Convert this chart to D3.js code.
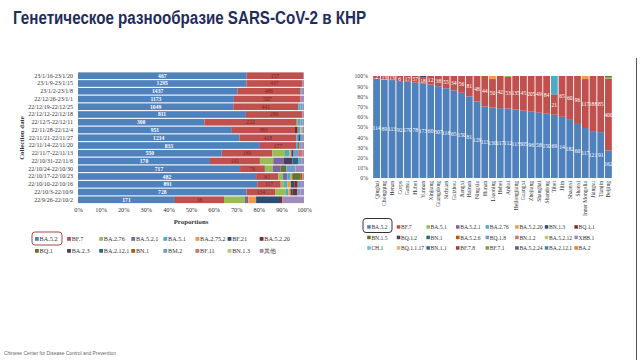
<!DOCTYPE html>
<html><head><meta charset="utf-8">
<script src="https://cdn.jsdelivr.net/npm/d3@7"></script>
<style>body{margin:0;background:#fff}svg{display:block}</style>
</head><body>
<svg id="c" width="640" height="360"></svg>
<script>
const titleText = "Генетическое разнообразие SARS-CoV-2 в КНР";
const footerText = "Chinese Center for Disease Control and Prevention";

// ---------- Left chart: weekly proportions ----------
const dates = ["23/1/16-23/1/20","23/1/9-23/1/15","23/1/2-23/1/8","22/12/26-23/1/1","22/12/19-22/12/25",
  "22/12/12-22/12/18","22/12/5-22/12/11","22/11/28-22/12/4","22/11/21-22/11/27","22/11/14-22/11/20",
  "22/11/7-22/11/13","22/10/31-22/11/6","22/10/24-22/10/30","22/10/17-22/10/23","22/10/10-22/10/16",
  "22/10/3-22/10/9","22/9/26-22/10/2"];
const leftSeries = ["BA.5.2","BF.7","BA.2.76","BA.5.2.1","BA.5.1","BA.2.75.2","BF.21","BA.5.2.20",
  "BQ.1","BA.2.3","BA.2.12.1","BN.1","BM.2","BF.11","BN.1.3","其他"];
const leftColors = ["#4F81BD","#C0504D","#9BBB59","#8064A2","#4BACC6","#F79646","#2C4D75","#772C2A",
  "#5F7530","#4D3B62","#276A7C","#B65708","#729ACA","#CD7371","#AFC97A","#A18BBC"];
const lBA52   = [74.6,74.5,70.5,69.0,68.7,74.3,55.9,68.1,71.4,80.5,63.6,58.4,71.7,78.8,79.3,74.6,42.9];
const lBF7    = [25.0,24.8,28.0,29.5,28.8,25.0,40.9,27.9,25.3,16.0,22.4,22.1,11.0,9.8,10.4,12.6,21.7];
const lBA276  = [0,0,0,0,0,0,0.5,0,0,0,5.6,5.9,3.5,2.0,1.5,4.8,9.3];
const lBA521  = [0,0,0,0,0,0,0,0,0,0,0,4.5,3.5,2.0,0,0,1.5];
const lBA51   = [0,0,0.5,0,1.0,0,1.2,0,0.8,0.8,2.0,0,0,1.5,1.5,1.0,0];
const lBA2752 = [0,0,0,0,0,0,0,0,0,0,0.8,0,0,0.7,1.5,1.0,3.4];
const lBF21   = [0,0,0,0,0,0,0,0,1.0,0,1.0,0,0,0,1.5,1.0,10.6];
const lBA5220 = [0,0,0,0,0,0,0,1.2,0,0,0,0,0,0,1.5,2.0,1.0];
const lBQ1    = [0,0,0,0,0,0,0,0,0,0,0,0,2.5,3.5,0,0,0];
const lBA23   = [0,0,0,0,0,0,0,0,0,0,0,4.0,0,0,0,0,0];
const lBA2121 = [0,0,0,0,0,0,0,0,0,0,0,2.5,0,0,0,0,0];
const lBN1    = [0,0,0,0,0,0,0,0,0,0.7,0,0,0,1.0,0,0,0];
const lBM2    = [0,0,0,0,0.8,0,0.8,1.2,1.0,1.0,2.0,1.6,4.0,0,1.5,1.5,0];
const lBF11   = [0,0,0,0,0,0,0,0,0,0,2.0,0,0,0,0,0,0];
const lBN13   = [0,0,0,0,0,0,0,0.8,0,0,0,0,0,0,0,0,0];
const lOther  = [0.4,0.7,1.0,1.5,0.7,0.7,0.7,0.8,0.5,1.0,0.6,1.0,3.8,0.7,1.3,1.5,9.6];
const leftValues = [lBA52,lBF7,lBA276,lBA521,lBA51,lBA2752,lBF21,lBA5220,lBQ1,lBA23,lBA2121,lBN1,lBM2,lBF11,lBN13,lOther];
const leftBlueCounts = [467,1295,1437,1173,1049,811,300,951,1214,833,550,170,717,482,891,728,171];
const leftRedCounts  = [157,437,486,507,441,280,222,383,418,177,189,141,76,81,117,134,38];
const pctTicks = [0,10,20,30,40,50,60,70,80,90,100];

// ---------- Right chart: provinces ----------
const provinces = ["Qinghai","Chongqing","Henan","Corps","Gansu","Hubei","Yunnan","Xinjiang","Guangdong",
  "Sichuan","Guizhou","Jiangxi","Hainan","Ningxia","Hunan","Liaoning","Hebei","Anhui","Heilongjiang",
  "Guangxi","Zhejiang","Shanghai","Shandong","Tibet","Jilin","Shaanxi","Shanxi","Inner Mongolia",
  "Jiangsu","Tianjin","Beijing"];
const rightSeries = ["BA.5.2","BF.7","BA.5.1","BA.5.2.1","BA.2.76","BA.5.2.20","BN.1.3","BQ.1.1",
  "BN.1.5","BQ.1.2","BN.1","BA.5.2.6","BQ.1.8","BN.1.2","BA.5.2.12","XBB.1",
  "CH.1","BQ.1.1.17","BN.1.1","BF.7.8","BF.7.1","BA.5.2.24","BA.2.12.1","BA.2"];
const rightColors = ["#4F81BD","#C0504D","#9BBB59","#8064A2","#4BACC6","#F79646","#2C4D75","#772C2A",
  "#5F7530","#4D3B62","#276A7C","#B65708","#729ACA","#CD7371","#AFC97A","#A18BBC",
  "#6FBDD1","#F9AB6B","#3A6595","#9B3D3A","#7E9C47","#664F84","#3B8DA3","#E0822B"];
const rBA52   = [97.5,96.5,96,95,94.5,93.5,92.5,91.5,90,88,86,83.5,80,75,70,69,68.5,68,67,66,65,64,63,62,60,57,53,49,46,45,27];
const rBF7    = [2.5,3.5,4,5,5.5,6.5,6,8.5,10,12,14,16.5,20,25,30,28,31.5,31,33,34,35,36,37,20,40,43,47,48,54,55,70.5];
const rBA276  = [0,0,0,0,0,0,0,0,0,0,0,0,0,0,0,0,0,0,0,0,0,0,0,18,0,0,0,0,0,0,0];
const rBA5220 = [0,0,0,0,0,0,0,0,0,0,0,0,0,0,0,3,0,0,0,0,0,0,0,0,0,0,0,3,0,0,0];
const rBN13   = [0,0,0,0,0,0,1.5,0,0,0,0,0,0,0,0,0,0,0,0,0,0,0,0,0,0,0,0,0,0,0,0];
const rBA51   = [0,0,0,0,0,0,0,0,0,0,0,0,0,0,0,0,0,1,0,0,0,0,0,0,0,0,0,0,0,0,1];
const rBN15   = [0,0,0,0,0,0,0,0,0,0,0,0,0,0,0,0,0,0,0,0,0,0,0,0,0,0,0,0,0,0,1.5];
const rightValueArrays = [["BA.5.2",rBA52],["BF.7",rBF7],["BA.5.1",rBA51],["BA.2.76",rBA276],["BA.5.2.20",rBA5220],["BN.1.3",rBN13],["BN.1.5",rBN15]];
const rightBlueCounts = [114,89,113,92,170,78,173,60,307,118,65,150,81,129,113,130,117,112,113,305,96,58,150,69,14,182,60,117,121,91,162];
const rightRedCounts  = [2,13,13,6,17,57,18,12,38,55,34,56,81,48,44,50,42,53,135,45,205,49,84,21,65,60,96,117,188,85,400];

// ---------- Drawing ----------
const svg = d3.select("#c");
const serif = "'Liberation Serif','Times New Roman',serif";

svg.append("text").attr("x",13).attr("y",24).attr("fill","#1F2D5C")
  .attr("font-family","'Liberation Sans Narrow','Arial Narrow','Liberation Sans',Arial,sans-serif")
  .attr("font-weight","bold").attr("font-size",18)
  .attr("textLength",353).attr("lengthAdjust","spacingAndGlyphs").text(titleText);

svg.append("text").attr("x",4).attr("y",355).attr("fill","#666")
  .attr("font-family","'Liberation Sans',Arial,sans-serif").attr("font-size",5.6)
  .attr("textLength",112).attr("lengthAdjust","spacingAndGlyphs").text(footerText);

svg.append("line").attr("x1",636.5).attr("x2",636.5).attr("y1",58).attr("y2",360)
  .attr("stroke","#555").attr("stroke-width",1);

// Left chart
const xL = d3.scaleLinear().domain([0,100]).range([78,304]);
const yL = d3.scaleBand().domain(dates).range([72,203.5]).paddingInner(0.14).paddingOuter(0.05);
const leftRows = dates.map((d,i)=>{const o={date:d}; leftSeries.forEach((s,j)=>o[s]=leftValues[j][i]); return o;});
const leftStack = d3.stack().keys(leftSeries)(leftRows);
const gL = svg.append("g");
gL.selectAll("g.s").data(leftStack).join("g").attr("fill",(d,i)=>leftColors[i])
  .selectAll("rect").data(d=>d).join("rect")
  .attr("x",d=>xL(d[0])).attr("width",d=>Math.max(0,xL(d[1])-xL(d[0])))
  .attr("y",d=>yL(d.data.date)).attr("height",yL.bandwidth());
// labels
gL.selectAll("text.b").data(leftStack[0]).join("text")
  .attr("x",d=>(xL(d[0])+xL(d[1]))/2).attr("y",d=>yL(d.data.date)+yL.bandwidth()/2+2)
  .attr("text-anchor","middle").attr("font-family",serif).attr("font-size",5.6).attr("font-weight","bold")
  .attr("fill","#fff").text((d,i)=>leftBlueCounts[i]);
gL.selectAll("text.r").data(leftStack[1]).join("text")
  .attr("x",d=>(xL(d[0])+xL(d[1]))/2).attr("y",d=>yL(d.data.date)+yL.bandwidth()/2+2)
  .attr("text-anchor","middle").attr("font-family",serif).attr("font-size",5.6)
  .attr("fill","#7a2624").text((d,i)=>leftRedCounts[i]);

const axL = svg.append("g").attr("transform","translate(78,0)")
  .call(d3.axisLeft(yL).tickSize(0).tickPadding(5));
axL.select(".domain").remove();
axL.selectAll("text").attr("font-family",serif).attr("font-size",6).attr("fill","#333");

const axLB = svg.append("g").attr("transform","translate(0,207)")
  .call(d3.axisBottom(xL).tickValues(pctTicks).tickFormat(d=>d+"%").tickSize(0).tickPadding(1));
axLB.select(".domain").remove();
axLB.selectAll("text").attr("font-family",serif).attr("font-size",6.3).attr("fill","#333");

svg.append("text").attr("x",191).attr("y",224).attr("text-anchor","middle")
  .attr("font-family",serif).attr("font-size",6.8).attr("font-weight","bold").attr("fill","#333").text("Proportions");
svg.append("text").attr("transform","translate(24,138) rotate(-90)").attr("text-anchor","middle")
  .attr("font-family",serif).attr("font-size",6.8).attr("font-weight","bold").attr("fill","#333").text("Collection date");

// Left legend
const lgL = svg.append("g");
leftSeries.forEach((s,i)=>{
  const col=i%8, row=Math.floor(i/8);
  const x=37+col*32.1, y=239+row*12;
  lgL.append("rect").attr("x",x-2).attr("y",y-2).attr("width",3.8).attr("height",3.8).attr("fill",leftColors[i]);
  lgL.append("text").attr("x",x+2.6).attr("y",y+2.2).attr("font-family",serif).attr("font-size",6.2)
    .attr("fill","#333").text(s);
});
svg.append("rect").attr("x",32).attr("y",232).attr("width",30).attr("height",13).attr("rx",3)
  .attr("fill","none").attr("stroke","#9E4D4B").attr("stroke-width",1);

// Right chart
const xR = d3.scaleBand().domain(provinces).range([373,612]).paddingInner(0.12).paddingOuter(0.02);
const yR = d3.scaleLinear().domain([0,100]).range([178,76]);
const rightRows = provinces.map((p,i)=>{const o={prov:p}; rightSeries.forEach(s=>o[s]=0);
  rightValueArrays.forEach(([s,arr])=>o[s]=arr[i]); return o;});
const rightStack = d3.stack().keys(rightSeries)(rightRows);
const gR = svg.append("g");
gR.selectAll("g.s").data(rightStack).join("g").attr("fill",(d,i)=>rightColors[i])
  .selectAll("rect").data(d=>d).join("rect")
  .attr("x",d=>xR(d.data.prov)).attr("width",xR.bandwidth())
  .attr("y",d=>yR(d[1])).attr("height",d=>Math.max(0,yR(d[0])-yR(d[1])));
gR.selectAll("text.b").data(rightStack[0]).join("text")
  .attr("x",d=>xR(d.data.prov)+xR.bandwidth()/2).attr("y",d=>(yR(d[0])+yR(d[1]))/2+2)
  .attr("text-anchor","middle").attr("font-family",serif).attr("font-size",5.6)
  .attr("fill","#fff").text((d,i)=>rightBlueCounts[i]);
gR.selectAll("text.r").data(rightStack[1]).join("text")
  .attr("x",d=>xR(d.data.prov)+xR.bandwidth()/2).attr("y",d=>(yR(d[0])+yR(d[1]))/2+2)
  .attr("text-anchor","middle").attr("font-family",serif).attr("font-size",5.6)
  .attr("fill","#fff").text((d,i)=>rightRedCounts[i]);

const axR = svg.append("g").attr("transform","translate(373,0)")
  .call(d3.axisLeft(yR).tickValues(pctTicks).tickFormat(d=>d+"%").tickSize(0).tickPadding(5));
axR.select(".domain").remove();
axR.selectAll("text").attr("font-family",serif).attr("font-size",5.8).attr("fill","#444");

const axRB = svg.append("g").attr("transform","translate(0,178)")
  .call(d3.axisBottom(xR).tickSize(0).tickPadding(0));
axRB.select(".domain").remove();
axRB.selectAll("text").attr("font-family",serif).attr("font-size",5.6).attr("fill","#333")
  .attr("text-anchor","end").attr("dy",null)
  .attr("transform","translate(2,3) rotate(-90)");

// Right legend
const lgR = svg.append("g");
rightSeries.forEach((s,i)=>{
  const col=i%8, row=Math.floor(i/8);
  const x=369+col*29.6, y=227+row*10.5;
  lgR.append("rect").attr("x",x-1.8).attr("y",y-1.8).attr("width",3.5).attr("height",3.5).attr("fill",rightColors[i]);
  lgR.append("text").attr("x",x+2.4).attr("y",y+2).attr("font-family",serif).attr("font-size",5.6)
    .attr("fill","#333").text(s);
});
svg.append("rect").attr("x",363).attr("y",218.5).attr("width",29).attr("height",14).attr("rx",3)
  .attr("fill","none").attr("stroke","#333").attr("stroke-width",1);
</script>
</body></html>
